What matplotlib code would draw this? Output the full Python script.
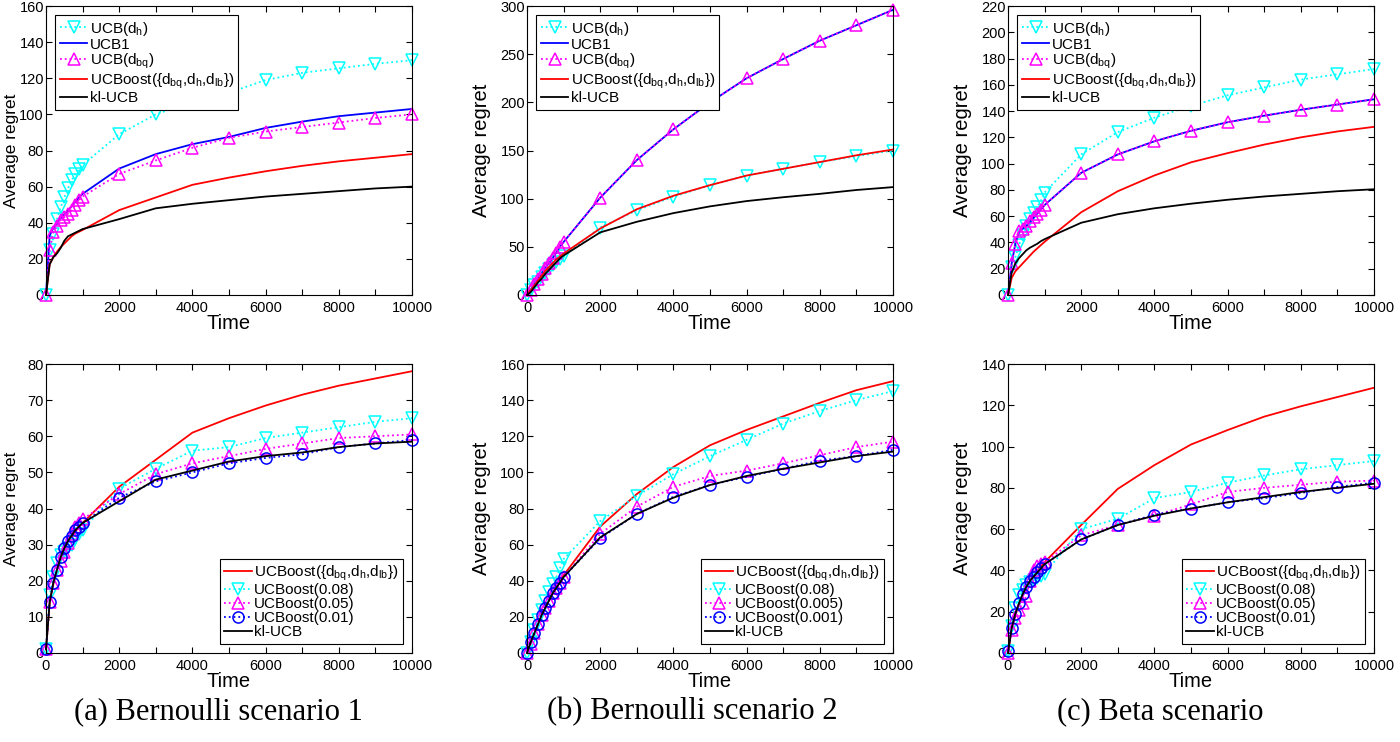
import matplotlib
matplotlib.use("Agg")
import matplotlib.pyplot as plt

plt.rcParams['font.family'] = ['Liberation Sans', 'DejaVu Sans']
plt.rcParams['mathtext.fontset'] = 'custom'
plt.rcParams['mathtext.rm'] = 'Liberation Sans'

# time steps
T = [0, 100, 200, 300, 400, 500, 600, 700, 800, 900, 1000,
     2000, 3000, 4000, 5000, 6000, 7000, 8000, 9000, 10000]

# (a) Bernoulli scenario 1, top
a_dh = [0, 25, 34, 42, 48.5, 54, 59, 63.5, 67, 69.5, 72, 89, 100, 107, 112, 119, 123, 125.5, 128, 130]
a_ucb1 = [0, 33, 37, 40, 42.5, 44.5, 47, 49, 51.5, 54, 56, 70, 78, 83.5, 87.5, 92.5, 96, 99, 101, 103]
a_dbq = [0, 25, 35, 38, 41.5, 43, 45, 47, 50, 52.5, 54.5, 67, 74.5, 81.5, 87, 90.5, 93, 95.5, 98, 100]
a_boost = [0, 17, 21, 24, 26.5, 28.5, 30.5, 32.5, 34, 35, 36, 47, 54, 61, 65, 68.5, 71.5, 74, 76, 78]
a_kl = [0, 17, 21, 23, 26, 30, 32.5, 33.5, 34.5, 35.5, 36.5, 42, 48, 50.5, 52.5, 54.5, 56, 57.5, 59, 60]

# (a) bottom
a2_boost = [1, 14, 19, 23, 26, 28.5, 30.5, 32, 33.5, 35, 36, 46, 53.5, 61, 65, 68.5, 71.5, 74, 76, 78]
a2_008 = [1, 16, 21, 25, 27, 28, 29, 30, 31.5, 33, 34, 45.5, 51, 56, 57, 59.5, 61, 62.5, 64, 65]
a2_005 = [1, 14, 19.5, 23, 25.5, 28, 30.5, 33, 35, 36, 37, 44, 49.5, 52.5, 54.5, 56.5, 58, 59.5, 60, 60.5]
a2_001 = [1, 14, 19.5, 23, 26.5, 29, 31, 32.5, 34, 35, 36, 43, 47.5, 50, 52.5, 54, 55, 57, 58, 59]
a2_kl = [1, 14, 19.5, 23, 26.5, 29, 31, 32.5, 34, 35, 36, 42, 48, 50.5, 53, 54.5, 55.5, 57, 58, 58.5]

# (b) Bernoulli scenario 2, top
b_dh = [0, 5, 10, 14, 19, 23, 27, 31, 34, 37, 40, 70, 88, 102, 114, 124, 131, 138, 144, 150]
b_ucb1 = [0, 5, 11, 17, 22, 28, 33, 38, 44, 50, 55, 101, 140, 172, 200, 225, 245, 264, 280, 296]
b_dbq = [0, 5, 11, 17, 22, 28, 33, 38, 44, 50, 55, 101, 140, 172, 200, 225, 245, 264, 280, 296]
b_boost = [0, 5, 10, 15, 20, 25, 29, 33, 37, 40, 43, 69, 89, 103, 114, 124, 131, 138, 145, 151]
b_kl = [0, 3, 8, 13, 17, 22, 26, 30, 34, 38, 41, 65, 76, 85, 92, 97.5, 101.5, 105, 109, 112]

# (b) bottom
b2_boost = [0, 5, 10, 15, 20, 25, 29, 33, 37, 40, 43, 70, 88, 103, 115, 123.5, 131, 138.5, 145.5, 150.5]
b2_008 = [0, 6, 13, 18, 24, 29, 34, 38, 42, 47, 52, 73, 87, 99, 109, 118, 127, 134, 140, 145]
b2_0005 = [0, 5, 11, 16, 21, 25, 29, 33, 36, 39, 42, 66, 81, 92, 98, 101, 105, 109.5, 114, 117]
b2_0001 = [0, 6, 11, 16, 21, 25, 29, 33, 36, 39, 42, 63.5, 77, 86.5, 93, 97.5, 102, 106.5, 109, 112.5]
b2_kl = [0, 6, 11, 16, 21, 25, 29, 33, 36, 39, 42, 64, 77, 86, 93, 98, 102, 105.5, 109, 111.5]

# (c) Beta scenario, top
c_dh = [0, 21, 29, 38, 45.5, 52.5, 57.5, 62.5, 67, 72, 78, 107, 124, 135, 144, 152, 158, 164, 168, 172]
c_ucb1 = [0, 24, 39, 48, 50.5, 52.5, 55.5, 59, 62, 65, 68.5, 93, 107, 117, 125, 131.5, 136.5, 141, 145, 149]
c_dbq = [0, 24, 39, 49, 50.5, 52.5, 56, 59.5, 62, 65, 68.5, 93, 107, 117, 125, 131.5, 136.5, 141, 145, 149]
c_boost = [0, 13, 18, 21, 24, 27, 30, 33, 35.5, 38, 40.5, 63, 79, 91, 101, 108, 114.5, 120, 124.5, 128]
c_kl = [0, 17, 24, 28, 31, 34, 36, 37.5, 39, 41, 42.5, 55, 61.5, 66, 69.5, 72.5, 75, 77, 79, 80.5]

# (c) bottom
c2_boost = [0, 12, 18, 24, 28, 31, 34, 37, 40, 42, 44, 62, 79.5, 91, 101, 108, 114.5, 119.5, 124, 128.5]
c2_008 = [1, 13, 22, 28, 30.5, 33, 34.5, 35.5, 36.5, 37.5, 38.5, 60, 65, 75, 78, 82.5, 86, 89, 91, 93]
c2_005 = [0, 11, 17, 21, 24, 27.5, 35, 40, 42, 43, 44, 57, 62, 66.5, 72, 78, 80, 81.5, 83, 83.5]
c2_001 = [1, 12, 19, 24, 28.5, 32, 35, 37, 39, 41, 43, 55, 62, 67, 70, 73, 75, 77.5, 80.5, 82.5]
c2_kl = [0, 12, 19, 24, 28.5, 32, 35, 37, 39, 41, 43, 55, 62, 66.5, 70, 73, 75.5, 78, 80, 82]

dh = r'd$_\mathregular{h}$'
dbq = r'd$_\mathregular{bq}$'
dlb = r'd$_\mathregular{lb}$'
lbl_boost = 'UCBoost({' + dbq + ',' + dh + ',' + dlb + '})'

top_panels = [
    (a_dh, a_ucb1, a_dbq, a_boost, a_kl, [0, 20, 40, 60, 80, 100, 120, 140, 160], False),
    (b_dh, b_ucb1, b_dbq, b_boost, b_kl, [0, 50, 100, 150, 200, 250, 300], True),
    (c_dh, c_ucb1, c_dbq, c_boost, c_kl, [0, 20, 40, 60, 80, 100, 120, 140, 160, 180, 200, 220], False),
]
bottom_panels = [
    (a2_boost, a2_008, a2_005, a2_001, a2_kl, ['0.08', '0.05', '0.01'], [0, 10, 20, 30, 40, 50, 60, 70, 80]),
    (b2_boost, b2_008, b2_0005, b2_0001, b2_kl, ['0.08', '0.005', '0.001'], [0, 20, 40, 60, 80, 100, 120, 140, 160]),
    (c2_boost, c2_008, c2_005, c2_001, c2_kl, ['0.08', '0.05', '0.01'], [0, 20, 40, 60, 80, 100, 120, 140]),
]
captions = ['(a) Bernoulli scenario 1', '(b) Bernoulli scenario 2', '(c) Beta scenario']

fig = plt.figure(figsize=(14, 7.42), dpi=100)
lefts = [46, 527, 1008]
# left column label sits against the figure edge, so it is a bit smaller
ylab_x = [-0.073, -0.098, -0.098]
ylab_fs = [12.5, 14.5, 14.5]
W, H = 1400.0, 742.0
lw = 1.3
ms = 8
tick_fs = 10.5
leg_fs = 11
lab_fs = 14.5


def style_axes(ax, yticks, xlabels_zero, col):
    ax.set_xlim(0, 10000)
    ax.set_ylim(yticks[0], yticks[-1])
    ax.set_yticks(yticks)
    ax.set_xticks(range(0, 10001, 1000), minor=True)
    if xlabels_zero:
        ax.set_xticks([0, 2000, 4000, 6000, 8000, 10000])
    else:
        ax.set_xticks([2000, 4000, 6000, 8000, 10000])
    ax.tick_params(which='both', direction='in', top=True, right=True,
                   length=4, width=0.8, labelsize=tick_fs)
    ax.tick_params(axis='x', pad=4.5)
    ax.tick_params(axis='y', pad=1.5)
    for s in ax.spines.values():
        s.set_linewidth(0.8)
    ax.set_xlabel('Time', fontsize=lab_fs)
    ax.set_ylabel('Average regret', fontsize=ylab_fs[col])
    ax.xaxis.set_label_coords(0.5, -0.065)
    ax.yaxis.set_label_coords(ylab_x[col], 0.5)


def add_legend(ax, loc):
    leg = ax.legend(loc=loc, fontsize=leg_fs, fancybox=False, framealpha=1,
                    edgecolor='black', handlelength=1.8, handletextpad=0.15,
                    labelspacing=0.0, borderpad=0.3, borderaxespad=0.6)
    leg.get_frame().set_linewidth(0.8)


for i, (dhv, ucb1, dbqv, boost, kl, yt, zero) in enumerate(top_panels):
    ax = fig.add_axes([lefts[i] / W, 1 - 295 / H, 366 / W, 289 / H])
    ax.plot(T, dhv, color='cyan', ls=':', lw=lw, marker='v', ms=ms, mfc='none', mew=1.1,
            clip_on=False, label='UCB(' + dh + ')')
    ax.plot(T, ucb1, color='blue', lw=lw, clip_on=False, label='UCB1')
    ax.plot(T, dbqv, color='magenta', ls=':', lw=lw, marker='^', ms=ms, mfc='none', mew=1.1,
            clip_on=False, label='UCB(' + dbq + ')')
    ax.plot(T, boost, color='red', lw=lw, clip_on=False, label=lbl_boost)
    ax.plot(T, kl, color='black', lw=lw, clip_on=False, label='kl-UCB')
    style_axes(ax, yt, zero, i)
    add_legend(ax, 'upper left')

for i, (boost, s1, s2, s3, kl, names, yt) in enumerate(bottom_panels):
    ax = fig.add_axes([lefts[i] / W, 1 - 653 / H, 366 / W, 289 / H])
    ax.plot(T, boost, color='red', lw=lw, clip_on=False, label=lbl_boost)
    ax.plot(T, s1, color='cyan', ls=':', lw=lw, marker='v', ms=ms, mfc='none', mew=1.1,
            clip_on=False, label='UCBoost(' + names[0] + ')')
    ax.plot(T, s2, color='magenta', ls=':', lw=lw, marker='^', ms=ms, mfc='none', mew=1.1,
            clip_on=False, label='UCBoost(' + names[1] + ')')
    ax.plot(T, s3, color='blue', ls=':', lw=lw, marker='o', ms=ms, mfc='none', mew=1.1,
            clip_on=False, label='UCBoost(' + names[2] + ')')
    ax.plot(T, kl, color='black', lw=lw, clip_on=False, label='kl-UCB')
    style_axes(ax, yt, True, i)
    add_legend(ax, 'lower right')

cap_x = [218, 692, 1160]
for x, c in zip(cap_x, captions):
    fig.text(x / W, 1 - 712 / H, c, ha='center', va='center',
             fontsize=22, family='Liberation Serif')

fig.savefig('out.png', dpi=100)
